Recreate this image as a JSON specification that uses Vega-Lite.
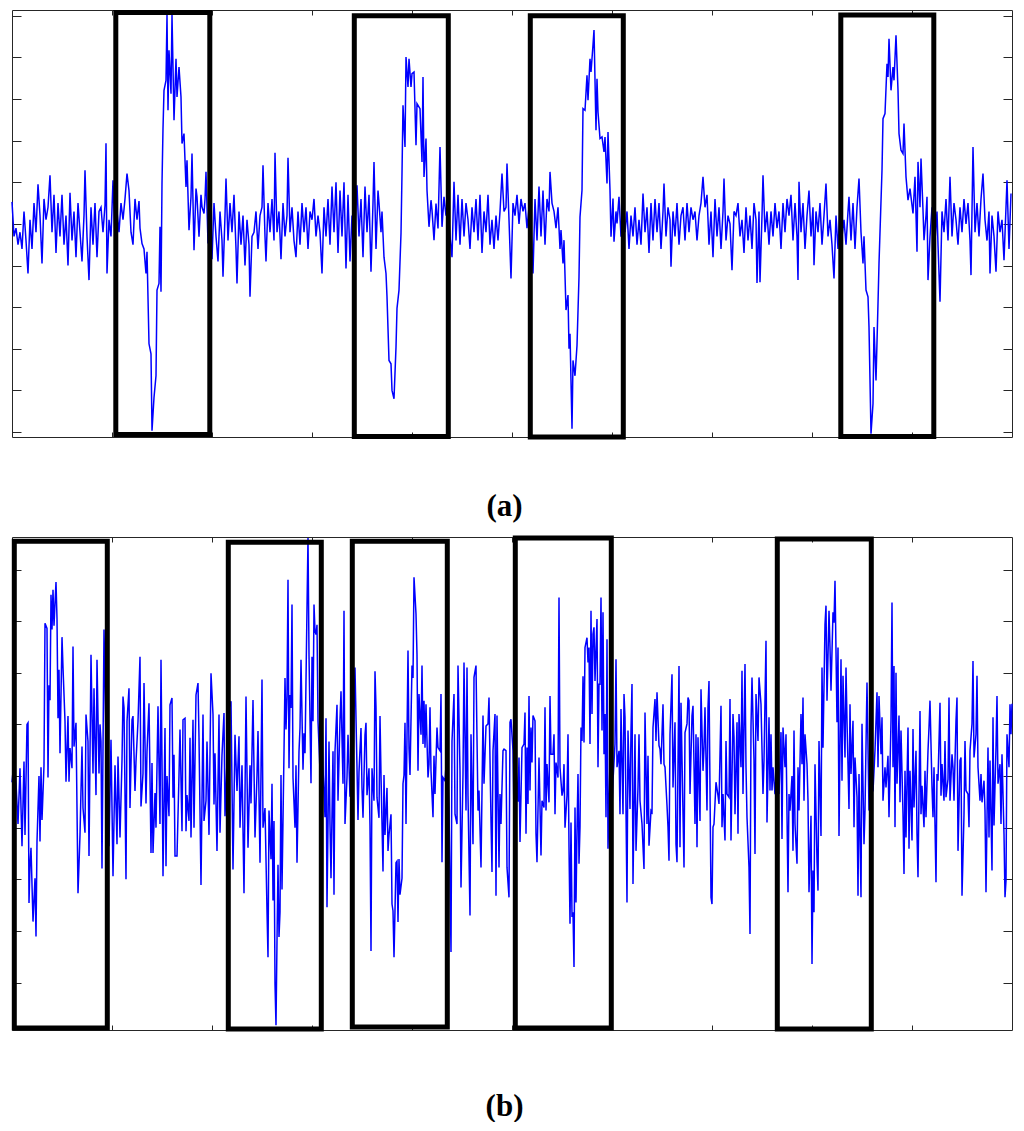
{
  "$schema": "https://vega.github.io/schema/vega-lite/v6.json",
  "padding": {"left": 8, "top": 9, "right": 0, "bottom": 0},
  "background": "white",
  "spacing": 12,
  "config": {
    "view": {"stroke": "#262626", "strokeWidth": 1},
    "axis": {"grid": false, "labels": false, "domain": false, "tickColor": "#262626", "tickWidth": 1, "title": null}
  },
  "datasets": {
    "boxA": [
      {"x0": 103.8, "x1": 197.8, "y0": -5.06, "y1": 5.08},
      {"x0": 342.3, "x1": 436.3, "y0": -5.11, "y1": 5.0},
      {"x0": 518.3, "x1": 611.3, "y0": -5.12, "y1": 5.0},
      {"x0": 828.8, "x1": 921.8, "y0": -5.11, "y1": 5.02}
    ],
    "boxB": [
      {"x0": 2.3, "x1": 95.3, "y0": -4.88, "y1": 4.55},
      {"x0": 216.3, "x1": 309.3, "y0": -4.9, "y1": 4.53},
      {"x0": 340.3, "x1": 435.3, "y0": -4.86, "y1": 4.55},
      {"x0": 503.3, "x1": 599.3, "y0": -4.88, "y1": 4.61},
      {"x0": 765.3, "x1": 859.3, "y0": -4.9, "y1": 4.59}
    ],
    "a": [
      {"x":0,"y":0.53},{"x":2,"y":-0.3},{"x":4,"y":-0.1},{"x":6,"y":-0.5},{"x":8,"y":-0.2},{"x":10,"y":-0.6},{"x":12,"y":0.3},{"x":14,"y":-0.4},{"x":16,"y":-1.19},{"x":18,"y":0.1},
      {"x":20,"y":-0.6},{"x":22,"y":0.5},{"x":24,"y":-0.2},{"x":26,"y":0.95},{"x":28,"y":0.2},{"x":30,"y":-0.95},{"x":32,"y":0.6},{"x":34,"y":0.1},{"x":36,"y":0.4},{"x":38,"y":1.17},
      {"x":40,"y":-0.2},{"x":42,"y":0.7},{"x":44,"y":-0.7},{"x":46,"y":0.5},{"x":48,"y":-0.3},{"x":50,"y":0.7},{"x":52,"y":-0.5},{"x":54,"y":0.2},{"x":56,"y":-1.0},{"x":58,"y":0.75},
      {"x":60,"y":-0.4},{"x":62,"y":0.3},{"x":64,"y":-0.8},{"x":66,"y":0.5},{"x":68,"y":-0.2},{"x":70,"y":-0.9},{"x":72,"y":0.2},{"x":73,"y":1.29},{"x":75,"y":-0.3},{"x":77,"y":-1.35},
      {"x":79,"y":0.4},{"x":81,"y":-0.5},{"x":83,"y":0.5},{"x":85,"y":-0.8},{"x":87,"y":0.3},{"x":89,"y":0.4},{"x":91,"y":-0.2},{"x":93,"y":0.45},{"x":94,"y":1.94},{"x":95,"y":-1.19},
      {"x":97,"y":0.1},{"x":99,"y":-0.3},{"x":101,"y":1.05},{"x":103,"y":-0.4},{"x":105,"y":0.3},{"x":107,"y":-0.2},{"x":109,"y":0.5},{"x":111,"y":0.1},{"x":113,"y":0.6},{"x":115,"y":1.21},
      {"x":117,"y":0.8},{"x":119,"y":-0.2},{"x":121,"y":-0.5},{"x":123,"y":0.6},{"x":125,"y":0.1},{"x":127,"y":0.55},{"x":128,"y":-0.1},{"x":130,"y":-0.47},{"x":132,"y":-0.6},{"x":134,"y":-1.19},
      {"x":135,"y":-0.67},{"x":137,"y":-2.88},{"x":139,"y":-3.12},{"x":140,"y":-4.97},{"x":142,"y":-4.17},{"x":144,"y":-3.65},{"x":145,"y":-1.59},{"x":147,"y":-1.43},{"x":148,"y":-0.07},{"x":149,"y":-1.63},
      {"x":150,"y":0.97},{"x":151,"y":2.29},{"x":152,"y":3.21},{"x":154,"y":3.45},{"x":155,"y":5.02},{"x":156,"y":2.73},{"x":157,"y":4.17},{"x":159,"y":3.13},{"x":160,"y":5.02},{"x":162,"y":2.49},
      {"x":164,"y":3.97},{"x":165,"y":3.05},{"x":167,"y":3.77},{"x":169,"y":3.05},{"x":170,"y":1.93},{"x":172,"y":2.17},{"x":174,"y":0.89},{"x":175,"y":1.53},{"x":177,"y":-0.15},{"x":179,"y":0.65},
      {"x":180,"y":1.69},{"x":182,"y":-0.63},{"x":184,"y":0.85},{"x":185,"y":0.65},{"x":187,"y":-0.31},{"x":189,"y":0.7},{"x":190,"y":0.41},{"x":192,"y":0.25},{"x":193,"y":0.6},{"x":194,"y":1.25},
      {"x":196,"y":-0.47},{"x":198,"y":0.2},{"x":200,"y":-0.85},{"x":202,"y":0.5},{"x":204,"y":-0.3},{"x":206,"y":-0.9},{"x":208,"y":0.3},{"x":210,"y":-0.4},{"x":211,"y":-1.27},{"x":213,"y":0.2},
      {"x":214,"y":1.09},{"x":216,"y":-0.4},{"x":218,"y":0.5},{"x":220,"y":-0.2},{"x":222,"y":0.7},{"x":224,"y":-0.6},{"x":225,"y":-1.43},{"x":227,"y":0.3},{"x":229,"y":-0.5},{"x":231,"y":0.2},
      {"x":233,"y":-1.0},{"x":235,"y":0.1},{"x":237,"y":-0.5},{"x":238,"y":-1.75},{"x":240,"y":-0.3},{"x":242,"y":-0.2},{"x":244,"y":0.3},{"x":246,"y":-0.6},{"x":248,"y":0.2},{"x":250,"y":0.4},
      {"x":251,"y":1.41},{"x":253,"y":-0.3},{"x":254,"y":-0.9},{"x":256,"y":0.5},{"x":258,"y":-0.2},{"x":260,"y":0.6},{"x":262,"y":-0.4},{"x":263,"y":1.71},{"x":265,"y":-0.2},{"x":267,"y":0.3},
      {"x":269,"y":-0.85},{"x":271,"y":0.5},{"x":273,"y":-0.3},{"x":275,"y":0.2},{"x":276,"y":1.59},{"x":278,"y":-0.2},{"x":280,"y":0.4},{"x":282,"y":-0.4},{"x":284,"y":-0.8},{"x":286,"y":0.3},
      {"x":288,"y":-0.5},{"x":290,"y":0.5},{"x":292,"y":-0.2},{"x":294,"y":0.4},{"x":296,"y":-0.6},{"x":298,"y":0.3},{"x":300,"y":0.1},{"x":302,"y":0.6},{"x":304,"y":-0.3},{"x":306,"y":0.2},
      {"x":308,"y":-0.2},{"x":310,"y":-1.19},{"x":312,"y":0.4},{"x":314,"y":-0.3},{"x":316,"y":0.6},{"x":318,"y":-0.5},{"x":320,"y":0.9},{"x":322,"y":-0.2},{"x":324,"y":1.0},{"x":326,"y":-0.7},
      {"x":328,"y":0.8},{"x":330,"y":-0.3},{"x":332,"y":1.0},{"x":334,"y":-1.07},{"x":336,"y":0.7},{"x":338,"y":-0.9},{"x":340,"y":0.2},{"x":342,"y":-0.5},{"x":345,"y":0.93},{"x":347,"y":-0.3},
      {"x":349,"y":0.6},{"x":351,"y":-0.8},{"x":353,"y":0.9},{"x":355,"y":-0.2},{"x":357,"y":0.7},{"x":359,"y":-1.15},{"x":361,"y":0.5},{"x":362,"y":1.49},{"x":364,"y":-0.6},{"x":366,"y":0.8},
      {"x":367,"y":0.5},{"x":369,"y":-0.2},{"x":370,"y":0.3},{"x":372,"y":-0.8},{"x":374,"y":-1.19},{"x":375,"y":-1.75},{"x":377,"y":-3.28},{"x":379,"y":-3.36},{"x":380,"y":-4.0},{"x":382,"y":-4.2},
      {"x":384,"y":-2.96},{"x":385,"y":-2.03},{"x":387,"y":-1.59},{"x":389,"y":-0.23},{"x":390,"y":1.21},{"x":391,"y":2.85},{"x":393,"y":1.85},{"x":394,"y":4.01},{"x":396,"y":3.29},{"x":397,"y":3.97},
      {"x":399,"y":3.29},{"x":400,"y":3.61},{"x":402,"y":3.65},{"x":404,"y":1.89},{"x":405,"y":2.89},{"x":408,"y":2.77},{"x":410,"y":1.49},{"x":411,"y":3.53},{"x":412,"y":1.13},{"x":414,"y":2.05},
      {"x":415,"y":0.81},{"x":417,"y":-0.07},{"x":419,"y":0.57},{"x":420,"y":0.33},{"x":422,"y":-0.39},{"x":424,"y":0.49},{"x":426,"y":-0.11},{"x":428,"y":1.85},{"x":430,"y":-0.07},{"x":432,"y":0.65},
      {"x":434,"y":0.2},{"x":436,"y":0.5},{"x":438,"y":-0.3},{"x":440,"y":-0.8},{"x":442,"y":1.01},{"x":444,"y":-0.4},{"x":446,"y":0.7},{"x":448,"y":-0.5},{"x":450,"y":0.6},{"x":452,"y":-0.3},
      {"x":454,"y":0.5},{"x":456,"y":0.1},{"x":458,"y":-0.6},{"x":460,"y":0.4},{"x":462,"y":-0.2},{"x":464,"y":0.6},{"x":466,"y":-0.4},{"x":468,"y":0.7},{"x":470,"y":-0.7},{"x":472,"y":0.3},
      {"x":474,"y":-0.2},{"x":476,"y":0.7},{"x":478,"y":-0.5},{"x":480,"y":0.1},{"x":482,"y":-0.6},{"x":484,"y":0.2},{"x":486,"y":-0.4},{"x":488,"y":0.3},{"x":490,"y":1.21},{"x":492,"y":0.3},
      {"x":494,"y":0.4},{"x":495,"y":1.45},{"x":497,"y":0.1},{"x":499,"y":-1.31},{"x":501,"y":0.5},{"x":503,"y":0.2},{"x":505,"y":0.7},{"x":507,"y":0.0},{"x":509,"y":0.6},{"x":511,"y":0.3},
      {"x":513,"y":0.5},{"x":515,"y":-0.1},{"x":517,"y":0.4},{"x":519,"y":0.0},{"x":521,"y":-1.19},{"x":523,"y":0.6},{"x":525,"y":-0.4},{"x":527,"y":0.9},{"x":529,"y":-0.3},{"x":531,"y":0.8},
      {"x":533,"y":-0.5},{"x":535,"y":0.6},{"x":537,"y":0.3},{"x":538,"y":1.25},{"x":540,"y":0.5},{"x":542,"y":0.3},{"x":544,"y":-0.1},{"x":546,"y":0.4},{"x":548,"y":-0.6},{"x":549,"y":-0.15},
      {"x":551,"y":-0.95},{"x":552,"y":-0.39},{"x":554,"y":-2.07},{"x":556,"y":-1.71},{"x":557,"y":-3.0},{"x":558,"y":-2.64},{"x":560,"y":-4.92},{"x":561,"y":-3.28},{"x":563,"y":-3.65},{"x":565,"y":-2.92},
      {"x":567,"y":-1.27},{"x":568,"y":0.17},{"x":570,"y":0.81},{"x":571,"y":2.77},{"x":573,"y":2.73},{"x":575,"y":3.57},{"x":576,"y":2.97},{"x":578,"y":3.97},{"x":579,"y":3.65},{"x":581,"y":4.3},
      {"x":582,"y":4.66},{"x":584,"y":2.25},{"x":585,"y":3.49},{"x":586,"y":2.69},{"x":588,"y":2.05},{"x":590,"y":2.09},{"x":592,"y":1.73},{"x":593,"y":2.09},{"x":595,"y":0.97},{"x":596,"y":2.21},
      {"x":598,"y":0.81},{"x":599,"y":-0.31},{"x":601,"y":0.61},{"x":602,"y":-0.43},{"x":604,"y":0.3},{"x":605,"y":0.01},{"x":607,"y":0.65},{"x":609,"y":-0.31},{"x":611,"y":0.5},{"x":613,"y":-0.2},
      {"x":615,"y":0.3},{"x":617,"y":-0.6},{"x":619,"y":0.2},{"x":621,"y":-0.3},{"x":623,"y":0.4},{"x":625,"y":-0.5},{"x":627,"y":0.1},{"x":629,"y":-0.5},{"x":631,"y":0.73},{"x":633,"y":-0.2},
      {"x":635,"y":0.4},{"x":637,"y":-0.7},{"x":639,"y":0.5},{"x":641,"y":-0.4},{"x":643,"y":0.6},{"x":645,"y":-0.2},{"x":647,"y":0.5},{"x":649,"y":-0.6},{"x":651,"y":0.3},{"x":652,"y":0.97},
      {"x":654,"y":-0.3},{"x":656,"y":0.4},{"x":658,"y":0.1},{"x":659,"y":-1.03},{"x":661,"y":0.3},{"x":663,"y":-0.3},{"x":665,"y":0.5},{"x":667,"y":-0.5},{"x":669,"y":0.2},{"x":671,"y":0.4},
      {"x":673,"y":-0.4},{"x":675,"y":0.5},{"x":677,"y":-0.2},{"x":679,"y":0.4},{"x":681,"y":0.1},{"x":683,"y":0.3},{"x":685,"y":-0.4},{"x":687,"y":0.2},{"x":689,"y":0.5},{"x":691,"y":1.13},
      {"x":693,"y":0.4},{"x":695,"y":0.7},{"x":697,"y":-0.5},{"x":699,"y":0.3},{"x":701,"y":-0.8},{"x":703,"y":0.6},{"x":705,"y":-0.3},{"x":707,"y":0.4},{"x":709,"y":-0.6},{"x":711,"y":0.3},
      {"x":712,"y":1.09},{"x":714,"y":-0.4},{"x":716,"y":0.2},{"x":718,"y":0.0},{"x":720,"y":-1.11},{"x":722,"y":0.3},{"x":724,"y":0.2},{"x":726,"y":0.5},{"x":728,"y":-0.3},{"x":730,"y":0.1},
      {"x":732,"y":-0.7},{"x":734,"y":0.4},{"x":736,"y":-0.4},{"x":738,"y":0.2},{"x":740,"y":-0.6},{"x":742,"y":0.5},{"x":744,"y":0.1},{"x":745,"y":-1.42},{"x":747,"y":0.3},{"x":748,"y":-1.4},
      {"x":750,"y":0.2},{"x":751,"y":1.17},{"x":753,"y":-0.2},{"x":755,"y":0.3},{"x":757,"y":-0.5},{"x":759,"y":0.3},{"x":761,"y":-0.3},{"x":763,"y":0.5},{"x":765,"y":-0.1},{"x":767,"y":0.3},
      {"x":769,"y":-0.6},{"x":771,"y":0.5},{"x":773,"y":-0.2},{"x":775,"y":0.6},{"x":777,"y":0.2},{"x":779,"y":0.7},{"x":781,"y":-0.4},{"x":783,"y":0.5},{"x":785,"y":-0.3},{"x":786,"y":-1.35},
      {"x":787,"y":1.01},{"x":789,"y":-0.2},{"x":791,"y":0.5},{"x":793,"y":-0.6},{"x":795,"y":0.2},{"x":797,"y":0.8},{"x":799,"y":-0.3},{"x":801,"y":0.4},{"x":802,"y":-0.99},{"x":804,"y":0.3},
      {"x":806,"y":-0.2},{"x":808,"y":0.5},{"x":810,"y":-0.5},{"x":812,"y":0.2},{"x":814,"y":0.97},{"x":816,"y":-0.3},{"x":818,"y":0.1},{"x":820,"y":-0.5},{"x":822,"y":-1.31},{"x":824,"y":0.2},
      {"x":826,"y":-0.6},{"x":828,"y":0.4},{"x":830,"y":-0.3},{"x":832,"y":0.1},{"x":834,"y":-0.5},{"x":836,"y":0.3},{"x":837,"y":0.65},{"x":839,"y":-0.4},{"x":841,"y":0.5},{"x":843,"y":-0.6},
      {"x":845,"y":0.4},{"x":847,"y":1.09},{"x":849,"y":-0.2},{"x":851,"y":-0.95},{"x":852,"y":-0.3},{"x":854,"y":-1.59},{"x":856,"y":-1.75},{"x":857,"y":-2.48},{"x":859,"y":-5.04},{"x":861,"y":-4.32},
      {"x":862,"y":-2.48},{"x":864,"y":-3.76},{"x":866,"y":-1.91},{"x":867,"y":-0.95},{"x":870,"y":1.29},{"x":871,"y":2.53},{"x":873,"y":2.65},{"x":875,"y":3.85},{"x":876,"y":3.53},{"x":877,"y":4.45},
      {"x":879,"y":3.21},{"x":881,"y":3.77},{"x":882,"y":3.45},{"x":884,"y":4.53},{"x":886,"y":3.21},{"x":887,"y":2.17},{"x":889,"y":1.77},{"x":891,"y":1.69},{"x":892,"y":2.41},{"x":894,"y":1.13},
      {"x":896,"y":0.57},{"x":898,"y":0.85},{"x":901,"y":0.25},{"x":903,"y":1.13},{"x":905,"y":-0.67},{"x":906,"y":1.49},{"x":908,"y":0.4},{"x":909,"y":1.57},{"x":911,"y":0.33},{"x":912,"y":-0.39},
      {"x":914,"y":0.2},{"x":915,"y":0.65},{"x":916,"y":-1.35},{"x":918,"y":-0.31},{"x":920,"y":0.4},{"x":921,"y":0.17},{"x":923,"y":-0.4},{"x":925,"y":0.3},{"x":926,"y":-0.5},{"x":928,"y":-1.87},
      {"x":930,"y":0.3},{"x":932,"y":-0.2},{"x":934,"y":0.6},{"x":936,"y":-0.4},{"x":938,"y":1.13},{"x":940,"y":-0.3},{"x":942,"y":0.5},{"x":944,"y":0.1},{"x":946,"y":-0.5},{"x":948,"y":0.4},
      {"x":950,"y":-0.2},{"x":952,"y":0.6},{"x":954,"y":0.0},{"x":956,"y":0.5},{"x":958,"y":-0.4},{"x":959,"y":-1.23},{"x":961,"y":1.85},{"x":963,"y":-0.2},{"x":965,"y":0.5},{"x":967,"y":-0.3},
      {"x":969,"y":0.6},{"x":971,"y":1.21},{"x":973,"y":0.1},{"x":975,"y":-0.4},{"x":977,"y":0.3},{"x":978,"y":-1.19},{"x":980,"y":0.2},{"x":982,"y":-0.3},{"x":984,"y":-1.15},{"x":986,"y":0.3},
      {"x":988,"y":-0.2},{"x":990,"y":0.1},{"x":992,"y":-0.87},{"x":994,"y":0.4},{"x":995,"y":1.05},{"x":997,"y":-0.6},{"x":999,"y":0.73}
    ],
    "b": [
      {"x":0,"y":-0.12},{"x":2,"y":0.3},{"x":4,"y":-0.14},{"x":6,"y":-0.93},{"x":8,"y":0.15},{"x":10,"y":-1.36},{"x":12,"y":0.28},{"x":13,"y":-1.14},{"x":15,"y":1.0},{"x":16,"y":1.03},
      {"x":17,"y":-2.46},{"x":18,"y":-1.72},{"x":19,"y":-1.39},{"x":21,"y":-2.82},{"x":23,"y":-1.98},{"x":24,"y":-3.11},{"x":25,"y":-1.27},{"x":27,"y":0.0},{"x":28,"y":-1.27},{"x":29,"y":0.17},
      {"x":30,"y":-0.85},{"x":32,"y":0.21},{"x":33,"y":2.96},{"x":35,"y":2.86},{"x":36,"y":-0.03},{"x":37,"y":1.76},{"x":38,"y":1.47},{"x":39,"y":3.51},{"x":40,"y":2.84},{"x":41,"y":3.61},
      {"x":42,"y":2.91},{"x":44,"y":3.76},{"x":45,"y":3.05},{"x":46,"y":1.12},{"x":47,"y":2.06},{"x":48,"y":0.44},{"x":50,"y":2.69},{"x":51,"y":2.1},{"x":53,"y":1.06},{"x":54,"y":-0.11},
      {"x":56,"y":1.16},{"x":57,"y":-0.11},{"x":58,"y":0.54},{"x":60,"y":0.15},{"x":61,"y":2.51},{"x":62,"y":0.57},{"x":64,"y":1.03},{"x":66,"y":-2.27},{"x":68,"y":-1.14},{"x":70,"y":0.57},
      {"x":71,"y":-0.62},{"x":73,"y":-1.1},{"x":74,"y":1.19},{"x":76,"y":0.67},{"x":77,"y":-1.55},{"x":79,"y":2.35},{"x":81,"y":0.05},{"x":82,"y":1.7},{"x":84,"y":-0.37},{"x":85,"y":2.25},
      {"x":87,"y":0.05},{"x":88,"y":1.0},{"x":89,"y":0.67},{"x":90,"y":-1.79},{"x":92,"y":2.84},{"x":94,"y":0.67},{"x":96,"y":0.2},{"x":97,"y":-1.36},{"x":99,"y":0.7},{"x":101,"y":-1.94},
      {"x":103,"y":0.21},{"x":105,"y":-1.32},{"x":106,"y":0.38},{"x":108,"y":-1.19},{"x":110,"y":0.3},{"x":111,"y":1.54},{"x":112,"y":1.32},{"x":114,"y":-2.0},{"x":115,"y":1.06},{"x":117,"y":1.7},
      {"x":118,"y":-0.62},{"x":120,"y":1.09},{"x":121,"y":1.16},{"x":123,"y":-0.29},{"x":124,"y":0.28},{"x":126,"y":1.06},{"x":128,"y":2.31},{"x":129,"y":-0.59},{"x":131,"y":0.05},{"x":132,"y":1.8},
      {"x":134,"y":-0.53},{"x":135,"y":0.48},{"x":137,"y":1.41},{"x":139,"y":-1.49},{"x":140,"y":0.25},{"x":141,"y":-1.49},{"x":143,"y":-0.33},{"x":144,"y":-1.0},{"x":146,"y":1.35},{"x":148,"y":-0.93},
      {"x":149,"y":2.25},{"x":150,"y":0.28},{"x":151,"y":-1.94},{"x":153,"y":0.93},{"x":154,"y":-1.75},{"x":155,"y":0.0},{"x":157,"y":-0.78},{"x":158,"y":1.38},{"x":160,"y":1.51},{"x":161,"y":-0.42},
      {"x":162,"y":0.41},{"x":163,"y":-1.55},{"x":165,"y":-1.55},{"x":167,"y":0.02},{"x":168,"y":0.9},{"x":170,"y":-1.07},{"x":171,"y":1.09},{"x":173,"y":1.12},{"x":174,"y":-1.07},{"x":175,"y":-0.37},
      {"x":177,"y":-0.87},{"x":178,"y":0.74},{"x":179,"y":-1.19},{"x":181,"y":1.09},{"x":182,"y":-1.0},{"x":184,"y":1.57},{"x":186,"y":1.8},{"x":187,"y":0.74},{"x":189,"y":-2.11},{"x":191,"y":1.19},
      {"x":192,"y":-0.87},{"x":194,"y":-0.48},{"x":195,"y":0.67},{"x":197,"y":-1.14},{"x":199,"y":1.99},{"x":201,"y":1.19},{"x":202,"y":-0.55},{"x":203,"y":0.44},{"x":205,"y":-1.45},{"x":207,"y":1.19},
      {"x":208,"y":-1.1},{"x":210,"y":0.41},{"x":212,"y":1.22},{"x":213,"y":-0.78},{"x":215,"y":0.3},{"x":217,"y":1.32},{"x":219,"y":1.45},{"x":221,"y":-1.81},{"x":223,"y":0.8},{"x":225,"y":-0.29},
      {"x":227,"y":0.77},{"x":228,"y":-1.0},{"x":230,"y":0.21},{"x":232,"y":-2.27},{"x":234,"y":1.54},{"x":236,"y":-1.39},{"x":238,"y":0.21},{"x":239,"y":-0.53},{"x":241,"y":1.47},{"x":243,"y":-1.19},
      {"x":245,"y":0.02},{"x":246,"y":0.87},{"x":248,"y":-1.68},{"x":250,"y":1.87},{"x":251,"y":-1.0},{"x":253,"y":-0.62},{"x":255,"y":-2.61},{"x":256,"y":-3.51},{"x":257,"y":-0.67},{"x":259,"y":-1.61},
      {"x":260,"y":-0.15},{"x":261,"y":-2.41},{"x":262,"y":-0.87},{"x":263,"y":-4.03},{"x":264,"y":-4.83},{"x":265,"y":-3.19},{"x":266,"y":-1.72},{"x":267,"y":-3.12},{"x":268,"y":-2.64},{"x":269,"y":0.02},
      {"x":270,"y":-2.2},{"x":272,"y":0.48},{"x":273,"y":1.9},{"x":274,"y":0.9},{"x":275,"y":1.54},{"x":276,"y":3.8},{"x":277,"y":0.15},{"x":278,"y":1.57},{"x":279,"y":1.32},{"x":280,"y":3.32},
      {"x":281,"y":-0.03},{"x":283,"y":-1.0},{"x":284,"y":0.21},{"x":285,"y":-1.68},{"x":287,"y":0.48},{"x":288,"y":0.93},{"x":289,"y":2.25},{"x":291,"y":0.12},{"x":292,"y":0.83},{"x":293,"y":0.44},
      {"x":295,"y":3.26},{"x":296,"y":4.61},{"x":297,"y":2.35},{"x":299,"y":-0.14},{"x":300,"y":2.31},{"x":301,"y":1.06},{"x":302,"y":3.32},{"x":303,"y":2.8},{"x":304,"y":2.74},{"x":305,"y":2.93},
      {"x":306,"y":1.06},{"x":308,"y":0.1},{"x":310,"y":1.2},{"x":311,"y":0.15},{"x":313,"y":-0.8},{"x":314,"y":1.12},{"x":315,"y":-2.54},{"x":317,"y":0.67},{"x":318,"y":-0.93},{"x":319,"y":-1.98},
      {"x":321,"y":0.48},{"x":322,"y":-2.3},{"x":323,"y":0.48},{"x":325,"y":1.38},{"x":326,"y":-0.48},{"x":328,"y":1.09},{"x":329,"y":1.64},{"x":331,"y":-0.15},{"x":332,"y":3.2},{"x":333,"y":-0.93},
      {"x":335,"y":-0.03},{"x":336,"y":0.8},{"x":338,"y":-0.4},{"x":340,"y":0.9},{"x":341,"y":0.3},{"x":343,"y":2.1},{"x":345,"y":0.15},{"x":346,"y":-0.85},{"x":347,"y":0.08},{"x":349,"y":0.93},
      {"x":350,"y":-0.23},{"x":351,"y":-0.81},{"x":353,"y":0.8},{"x":354,"y":1.03},{"x":355,"y":-0.37},{"x":357,"y":0.15},{"x":358,"y":-0.97},{"x":359,"y":-3.39},{"x":360,"y":0.15},{"x":362,"y":-0.48},
      {"x":363,"y":2.03},{"x":364,"y":1.32},{"x":365,"y":-0.42},{"x":367,"y":-0.81},{"x":368,"y":1.16},{"x":369,"y":0.02},{"x":371,"y":-1.85},{"x":372,"y":0.02},{"x":373,"y":-1.14},{"x":375,"y":-0.23},
      {"x":376,"y":-1.45},{"x":377,"y":-1.14},{"x":379,"y":-0.74},{"x":380,"y":-2.48},{"x":381,"y":-2.61},{"x":382,"y":-3.51},{"x":384,"y":-1.68},{"x":385,"y":-1.65},{"x":386,"y":-2.83},{"x":387,"y":-1.61},
      {"x":388,"y":-2.3},{"x":390,"y":-1.98},{"x":391,"y":-0.15},{"x":392,"y":0.02},{"x":393,"y":1.03},{"x":394,"y":-0.93},{"x":396,"y":2.43},{"x":397,"y":0.54},{"x":398,"y":0.02},{"x":400,"y":2.14},
      {"x":401,"y":1.9},{"x":402,"y":3.85},{"x":404,"y":3.14},{"x":405,"y":2.35},{"x":406,"y":0.1},{"x":407,"y":1.59},{"x":409,"y":0.8},{"x":410,"y":2.14},{"x":411,"y":0.62},{"x":412,"y":1.46},
      {"x":413,"y":0.55},{"x":414,"y":1.39},{"x":416,"y":-0.03},{"x":417,"y":0.23},{"x":418,"y":1.33},{"x":419,"y":0.1},{"x":421,"y":-0.8},{"x":422,"y":0.39},{"x":423,"y":-0.35},{"x":425,"y":0.94},
      {"x":426,"y":0.55},{"x":428,"y":0.49},{"x":429,"y":1.59},{"x":430,"y":-1.67},{"x":431,"y":-0.03},{"x":433,"y":-0.09},{"x":435,"y":0.5},{"x":437,"y":-0.6},{"x":439,"y":-3.41},{"x":440,"y":0.68},
      {"x":442,"y":1.59},{"x":443,"y":-0.74},{"x":445,"y":-0.93},{"x":446,"y":2.14},{"x":448,"y":0.1},{"x":449,"y":-2.16},{"x":451,"y":0.04},{"x":452,"y":2.2},{"x":454,"y":-0.67},{"x":455,"y":2.1},
      {"x":456,"y":-0.38},{"x":458,"y":-2.7},{"x":459,"y":0.81},{"x":461,"y":-1.32},{"x":462,"y":1.91},{"x":464,"y":2.14},{"x":466,"y":-0.67},{"x":467,"y":-0.28},{"x":469,"y":-1.77},{"x":471,"y":1.17},
      {"x":472,"y":-0.15},{"x":474,"y":0.97},{"x":476,"y":1.01},{"x":477,"y":1.52},{"x":479,"y":-0.86},{"x":480,"y":-1.86},{"x":481,"y":0.49},{"x":483,"y":1.2},{"x":484,"y":-2.32},{"x":485,"y":1.17},
      {"x":487,"y":-1.77},{"x":488,"y":-0.35},{"x":489,"y":-0.93},{"x":491,"y":0.49},{"x":492,"y":0.52},{"x":494,"y":0.49},{"x":495,"y":-1.77},{"x":497,"y":-2.35},{"x":498,"y":1.04},{"x":499,"y":1.1},
      {"x":501,"y":0.49},{"x":502,"y":-0.8},{"x":504,"y":0.17},{"x":506,"y":-0.5},{"x":507,"y":0.36},{"x":508,"y":-1.28},{"x":510,"y":0.55},{"x":512,"y":0.62},{"x":513,"y":1.23},{"x":514,"y":-1.12},
      {"x":515,"y":0.55},{"x":516,"y":-0.54},{"x":517,"y":1.55},{"x":518,"y":-0.28},{"x":519,"y":0.94},{"x":520,"y":0.26},{"x":521,"y":1.17},{"x":523,"y":1.07},{"x":524,"y":-1.12},{"x":525,"y":-1.67},
      {"x":527,"y":0.36},{"x":529,"y":-1.54},{"x":530,"y":-0.48},{"x":532,"y":-0.61},{"x":533,"y":1.33},{"x":534,"y":-0.67},{"x":535,"y":0.23},{"x":537,"y":-0.51},{"x":538,"y":1.55},{"x":539,"y":0.42},
      {"x":541,"y":0.42},{"x":542,"y":0.81},{"x":543,"y":-0.74},{"x":544,"y":0.26},{"x":546,"y":-0.03},{"x":547,"y":3.46},{"x":548,"y":0.17},{"x":550,"y":-0.38},{"x":551,"y":-0.28},{"x":552,"y":0.23},
      {"x":553,"y":-1.0},{"x":555,"y":-0.38},{"x":556,"y":0.81},{"x":557,"y":-1.38},{"x":558,"y":-2.86},{"x":559,"y":-0.9},{"x":560,"y":-2.73},{"x":561,"y":-2.64},{"x":562,"y":-3.7},{"x":563,"y":-0.61},
      {"x":564,"y":-2.45},{"x":565,"y":-1.06},{"x":566,"y":0.04},{"x":567,"y":-1.7},{"x":568,"y":-0.99},{"x":569,"y":0.94},{"x":570,"y":0.68},{"x":571,"y":1.93},{"x":572,"y":0.65},{"x":573,"y":2.49},
      {"x":575,"y":2.68},{"x":576,"y":2.2},{"x":577,"y":2.49},{"x":578,"y":0.62},{"x":579,"y":3.2},{"x":580,"y":1.2},{"x":581,"y":2.75},{"x":582,"y":2.88},{"x":583,"y":1.84},{"x":585,"y":3.04},
      {"x":586,"y":0.17},{"x":587,"y":1.78},{"x":588,"y":1.78},{"x":589,"y":3.46},{"x":590,"y":0.88},{"x":591,"y":3.17},{"x":592,"y":0.42},{"x":593,"y":1.2},{"x":594,"y":-0.8},{"x":595,"y":2.65},
      {"x":596,"y":-1.41},{"x":598,"y":0.3},{"x":599,"y":-1.2},{"x":601,"y":-0.09},{"x":603,"y":0.62},{"x":604,"y":2.26},{"x":605,"y":0.17},{"x":607,"y":0.49},{"x":608,"y":-0.74},{"x":609,"y":1.3},
      {"x":611,"y":-0.74},{"x":612,"y":1.59},{"x":613,"y":1.14},{"x":615,"y":-2.45},{"x":616,"y":0.88},{"x":618,"y":-0.64},{"x":619,"y":0.88},{"x":620,"y":1.78},{"x":621,"y":-2.09},{"x":623,"y":0.81},
      {"x":624,"y":-1.45},{"x":626,"y":-0.22},{"x":627,"y":0.81},{"x":628,"y":-0.48},{"x":630,"y":-0.93},{"x":632,"y":-1.8},{"x":633,"y":1.23},{"x":635,"y":-0.93},{"x":636,"y":0.39},{"x":637,"y":-1.35},
      {"x":639,"y":-0.67},{"x":640,"y":-0.7},{"x":641,"y":0.94},{"x":643,"y":1.49},{"x":644,"y":0.68},{"x":645,"y":1.62},{"x":647,"y":0.59},{"x":648,"y":0.52},{"x":649,"y":0.23},{"x":651,"y":1.39},
      {"x":652,"y":0.23},{"x":653,"y":0.17},{"x":655,"y":-0.57},{"x":656,"y":-0.99},{"x":657,"y":-1.64},{"x":658,"y":0.81},{"x":660,"y":1.97},{"x":661,"y":-0.22},{"x":663,"y":1.04},{"x":664,"y":-1.32},
      {"x":665,"y":-1.67},{"x":667,"y":2.13},{"x":668,"y":-1.38},{"x":669,"y":1.42},{"x":671,"y":-0.74},{"x":672,"y":-1.77},{"x":673,"y":0.84},{"x":675,"y":1.01},{"x":676,"y":1.52},{"x":677,"y":1.46},
      {"x":678,"y":-0.35},{"x":680,"y":1.17},{"x":681,"y":1.36},{"x":683,"y":-0.93},{"x":684,"y":0.81},{"x":685,"y":-1.38},{"x":686,"y":0.75},{"x":688,"y":-0.87},{"x":689,"y":1.68},{"x":691,"y":0.1},
      {"x":692,"y":0.55},{"x":693,"y":1.33},{"x":695,"y":-0.67},{"x":696,"y":1.33},{"x":697,"y":1.84},{"x":699,"y":-2.35},{"x":700,"y":-2.48},{"x":701,"y":-0.99},{"x":702,"y":-0.93},{"x":704,"y":-0.12},
      {"x":706,"y":-0.38},{"x":707,"y":-0.54},{"x":709,"y":1.36},{"x":710,"y":-0.99},{"x":711,"y":-0.35},{"x":713,"y":-1.25},{"x":714,"y":0.68},{"x":715,"y":-0.35},{"x":717,"y":-0.41},{"x":718,"y":1.49},
      {"x":719,"y":-1.25},{"x":721,"y":1.2},{"x":722,"y":0.75},{"x":723,"y":-0.74},{"x":725,"y":1.04},{"x":726,"y":-1.12},{"x":727,"y":1.2},{"x":729,"y":0.17},{"x":730,"y":2.04},{"x":731,"y":-0.35},
      {"x":733,"y":2.17},{"x":734,"y":0.17},{"x":735,"y":-0.8},{"x":737,"y":-1.77},{"x":738,"y":-3.06},{"x":739,"y":0.97},{"x":740,"y":1.91},{"x":742,"y":0.3},{"x":743,"y":-1.51},{"x":744,"y":1.59},
      {"x":746,"y":0.68},{"x":747,"y":1.91},{"x":749,"y":1.39},{"x":751,"y":-0.35},{"x":752,"y":0.3},{"x":754,"y":2.62},{"x":755,"y":-0.9},{"x":757,"y":1.14},{"x":758,"y":-0.28},{"x":759,"y":0.81},
      {"x":760,"y":-0.28},{"x":761,"y":0.17},{"x":763,"y":-0.35},{"x":765,"y":0.3},{"x":767,"y":-0.35},{"x":769,"y":0.85},{"x":770,"y":-1.22},{"x":771,"y":0.94},{"x":773,"y":0.17},{"x":774,"y":0.81},
      {"x":776,"y":-2.25},{"x":777,"y":-0.35},{"x":778,"y":-0.67},{"x":780,"y":0.0},{"x":781,"y":-1.45},{"x":782,"y":0.88},{"x":783,"y":-0.93},{"x":785,"y":-1.7},{"x":786,"y":0.17},{"x":787,"y":-0.67},
      {"x":789,"y":1.2},{"x":790,"y":0.23},{"x":791,"y":1.52},{"x":792,"y":-0.48},{"x":793,"y":0.81},{"x":795,"y":0.23},{"x":796,"y":-0.48},{"x":797,"y":-2.25},{"x":799,"y":-0.77},{"x":800,"y":-3.64},
      {"x":801,"y":-1.83},{"x":802,"y":-2.64},{"x":803,"y":0.23},{"x":805,"y":-1.64},{"x":806,"y":-2.22},{"x":807,"y":0.68},{"x":809,"y":-1.16},{"x":810,"y":2.1},{"x":811,"y":0.55},{"x":813,"y":2.94},
      {"x":814,"y":3.3},{"x":815,"y":1.46},{"x":817,"y":3.2},{"x":818,"y":2.49},{"x":819,"y":1.65},{"x":821,"y":3.17},{"x":822,"y":2.97},{"x":823,"y":3.78},{"x":825,"y":1.04},{"x":826,"y":2.49},
      {"x":827,"y":-1.16},{"x":829,"y":2.26},{"x":830,"y":-0.09},{"x":831,"y":1.94},{"x":833,"y":0.36},{"x":834,"y":2.1},{"x":835,"y":1.07},{"x":837,"y":-0.64},{"x":838,"y":1.39},{"x":839,"y":0.04},
      {"x":841,"y":1.07},{"x":842,"y":-0.99},{"x":843,"y":0.36},{"x":845,"y":-0.41},{"x":846,"y":-2.32},{"x":847,"y":0.04},{"x":849,"y":-2.35},{"x":850,"y":1.01},{"x":852,"y":-1.32},{"x":853,"y":-0.67},
      {"x":855,"y":1.81},{"x":857,"y":-0.67},{"x":859,"y":0.4},{"x":861,"y":-0.3},{"x":863,"y":0.5},{"x":865,"y":1.62},{"x":866,"y":0.17},{"x":867,"y":1.55},{"x":869,"y":0.42},{"x":870,"y":1.14},
      {"x":871,"y":-0.48},{"x":873,"y":0.17},{"x":874,"y":-0.22},{"x":876,"y":0.39},{"x":877,"y":-0.8},{"x":879,"y":1.07},{"x":880,"y":3.36},{"x":881,"y":0.17},{"x":882,"y":2.13},{"x":883,"y":-0.99},
      {"x":884,"y":2.0},{"x":885,"y":-0.15},{"x":887,"y":1.17},{"x":888,"y":-0.51},{"x":889,"y":0.88},{"x":891,"y":-0.74},{"x":892,"y":-1.9},{"x":893,"y":0.1},{"x":894,"y":-1.19},{"x":896,"y":0.94},
      {"x":897,"y":-1.41},{"x":898,"y":0.1},{"x":900,"y":-1.25},{"x":901,"y":0.91},{"x":902,"y":-0.61},{"x":904,"y":0.49},{"x":905,"y":-1.12},{"x":906,"y":-1.96},{"x":908,"y":1.26},{"x":909,"y":-0.74},
      {"x":910,"y":-0.19},{"x":912,"y":-0.99},{"x":913,"y":0.1},{"x":914,"y":-0.8},{"x":916,"y":0.49},{"x":917,"y":0.94},{"x":918,"y":1.46},{"x":920,"y":-0.22},{"x":921,"y":-0.8},{"x":922,"y":0.17},
      {"x":924,"y":-2.06},{"x":925,"y":0.04},{"x":926,"y":-0.09},{"x":928,"y":1.42},{"x":929,"y":-0.38},{"x":930,"y":0.23},{"x":932,"y":-0.48},{"x":933,"y":0.68},{"x":934,"y":-0.41},{"x":936,"y":-0.06},
      {"x":937,"y":1.52},{"x":938,"y":-0.48},{"x":940,"y":0.42},{"x":941,"y":0.17},{"x":942,"y":-0.48},{"x":944,"y":1.07},{"x":945,"y":1.52},{"x":946,"y":-1.45},{"x":948,"y":0.3},{"x":949,"y":0.36},
      {"x":950,"y":-2.32},{"x":952,"y":-0.74},{"x":953,"y":0.68},{"x":954,"y":-0.28},{"x":956,"y":-0.35},{"x":957,"y":-0.99},{"x":958,"y":0.49},{"x":960,"y":1.01},{"x":961,"y":2.23},{"x":962,"y":0.36},
      {"x":964,"y":0.81},{"x":965,"y":1.94},{"x":966,"y":0.17},{"x":968,"y":-0.48},{"x":969,"y":0.04},{"x":970,"y":-0.51},{"x":972,"y":-0.09},{"x":973,"y":-0.67},{"x":974,"y":-2.25},{"x":976,"y":0.55},
      {"x":977,"y":-1.19},{"x":978,"y":0.3},{"x":980,"y":-1.83},{"x":981,"y":1.14},{"x":982,"y":-0.96},{"x":984,"y":0.55},{"x":985,"y":1.55},{"x":986,"y":-0.15},{"x":988,"y":0.23},{"x":989,"y":-0.93},
      {"x":990,"y":0.42},{"x":992,"y":-1.12},{"x":993,"y":-2.35},{"x":994,"y":-2.03},{"x":995,"y":0.81},{"x":997,"y":0.17},{"x":998,"y":1.39},{"x":999,"y":0.81},{"x":1000,"y":1.4}
    ]
  },
  "vconcat": [
    {
      "width": 1000,
      "height": 427,
      "layer": [
        {
          "data": {"name": "a"},
          "mark": {"type": "line", "color": "#0000ff", "strokeWidth": 1.5},
          "encoding": {
            "x": {"field": "x", "type": "quantitative", "scale": {"domain": [0, 1000], "nice": false, "zero": false},
                  "axis": {"orient": "bottom", "values": [100, 200, 300, 400, 500, 600, 700, 800, 900], "tickSize": -5,
                           "title": "(a)", "titleFont": "Liberation Serif", "titleFontSize": 31, "titleFontWeight": "bold",
                           "titleColor": "black", "titlePadding": 54, "titleX": 492, "titleAlign": "center"}},
            "y": {"field": "y", "type": "quantitative", "scale": {"domain": [-5.12, 5.14], "nice": false, "zero": false},
                  "axis": {"orient": "left", "values": [-5, -4, -3, -2, -1, 0, 1, 2, 3, 4, 5], "tickSize": -9}}
          }
        },
        {
          "data": {"name": "boxA"},
          "mark": {"type": "rect", "fill": null, "stroke": "black", "strokeWidth": 5},
          "encoding": {
            "x": {"field": "x0", "type": "quantitative", "axis": {"orient": "top", "values": [100, 200, 300, 400, 500, 600, 700, 800, 900], "tickSize": -5}},
            "x2": {"field": "x1"},
            "y": {"field": "y0", "type": "quantitative", "axis": {"orient": "right", "values": [-5, -4, -3, -2, -1, 0, 1, 2, 3, 4, 5], "tickSize": -9}},
            "y2": {"field": "y1"}
          }
        }
      ],
      "resolve": {"axis": {"x": "independent", "y": "independent"}}
    },
    {
      "width": 1000,
      "height": 493,
      "layer": [
        {
          "data": {"name": "b"},
          "mark": {"type": "line", "color": "#0000ff", "strokeWidth": 1.5},
          "encoding": {
            "x": {"field": "x", "type": "quantitative", "scale": {"domain": [0, 1000], "nice": false, "zero": false},
                  "axis": {"orient": "bottom", "values": [100, 200, 300, 400, 500, 600, 700, 800, 900], "tickSize": -5,
                           "title": "(b)", "titleFont": "Liberation Serif", "titleFontSize": 31, "titleFontWeight": "bold",
                           "titleColor": "black", "titlePadding": 61, "titleX": 492, "titleAlign": "center"}},
            "y": {"field": "y", "type": "quantitative", "scale": {"domain": [-4.92, 4.63], "nice": false, "zero": false},
                  "axis": {"orient": "left", "values": [-4, -3, -2, -1, 0, 1, 2, 3, 4], "tickSize": -9}}
          }
        },
        {
          "data": {"name": "boxB"},
          "mark": {"type": "rect", "fill": null, "stroke": "black", "strokeWidth": 5},
          "encoding": {
            "x": {"field": "x0", "type": "quantitative", "axis": {"orient": "top", "values": [100, 200, 300, 400, 500, 600, 700, 800, 900], "tickSize": -5}},
            "x2": {"field": "x1"},
            "y": {"field": "y0", "type": "quantitative", "axis": {"orient": "right", "values": [-4, -3, -2, -1, 0, 1, 2, 3, 4], "tickSize": -9}},
            "y2": {"field": "y1"}
          }
        }
      ],
      "resolve": {"axis": {"x": "independent", "y": "independent"}}
    }
  ]
}
